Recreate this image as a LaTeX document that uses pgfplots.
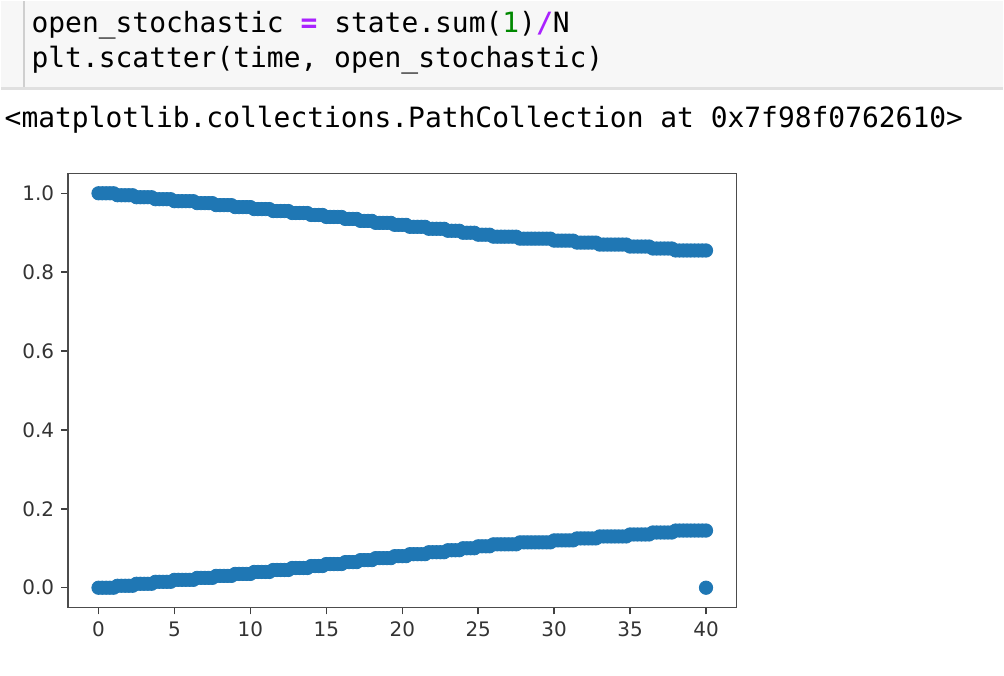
\documentclass[border=0pt]{standalone}
\usepackage{fontspec}
\setmainfont{DejaVu Sans}
\setsansfont{DejaVu Sans}
\setmonofont{DejaVu Sans Mono}
\usepackage{pgfplots}
\usepackage{pgfplotstable}
\pgfplotsset{compat=1.18}
\definecolor{mplblue}{HTML}{1F77B4}
\definecolor{cellbg}{HTML}{F7F7F7}
\definecolor{cellline}{HTML}{CFCFCF}
\definecolor{cellbot}{HTML}{E0E0E0}
\definecolor{cmop}{HTML}{AA22FF}
\definecolor{cmnum}{HTML}{008800}

\pgfplotstableread{
t up lo
0 1.000 0.000
0.25 1.000 0.000
0.5 1.000 0.000
0.75 1.000 0.000
1 1.000 0.000
1.25 0.995 0.005
1.5 0.995 0.005
1.75 0.995 0.005
2 0.995 0.005
2.25 0.995 0.005
2.5 0.990 0.010
2.75 0.990 0.010
3 0.990 0.010
3.25 0.990 0.010
3.5 0.990 0.010
3.75 0.985 0.015
4 0.985 0.015
4.25 0.985 0.015
4.5 0.985 0.015
4.75 0.985 0.015
5 0.980 0.020
5.25 0.980 0.020
5.5 0.980 0.020
5.75 0.980 0.020
6 0.980 0.020
6.25 0.980 0.020
6.5 0.975 0.025
6.75 0.975 0.025
7 0.975 0.025
7.25 0.975 0.025
7.5 0.975 0.025
7.75 0.970 0.030
8 0.970 0.030
8.25 0.970 0.030
8.5 0.970 0.030
8.75 0.970 0.030
9 0.965 0.035
9.25 0.965 0.035
9.5 0.965 0.035
9.75 0.965 0.035
10 0.965 0.035
10.25 0.960 0.040
10.5 0.960 0.040
10.75 0.960 0.040
11 0.960 0.040
11.25 0.960 0.040
11.5 0.955 0.045
11.75 0.955 0.045
12 0.955 0.045
12.25 0.955 0.045
12.5 0.955 0.045
12.75 0.950 0.050
13 0.950 0.050
13.25 0.950 0.050
13.5 0.950 0.050
13.75 0.950 0.050
14 0.945 0.055
14.25 0.945 0.055
14.5 0.945 0.055
14.75 0.945 0.055
15 0.940 0.060
15.25 0.940 0.060
15.5 0.940 0.060
15.75 0.940 0.060
16 0.940 0.060
16.25 0.935 0.065
16.5 0.935 0.065
16.75 0.935 0.065
17 0.935 0.065
17.25 0.930 0.070
17.5 0.930 0.070
17.75 0.930 0.070
18 0.930 0.070
18.25 0.925 0.075
18.5 0.925 0.075
18.75 0.925 0.075
19 0.925 0.075
19.25 0.925 0.075
19.5 0.920 0.080
19.75 0.920 0.080
20 0.920 0.080
20.25 0.920 0.080
20.5 0.915 0.085
20.75 0.915 0.085
21 0.915 0.085
21.25 0.915 0.085
21.5 0.915 0.085
21.75 0.910 0.090
22 0.910 0.090
22.25 0.910 0.090
22.5 0.910 0.090
22.75 0.910 0.090
23 0.905 0.095
23.25 0.905 0.095
23.5 0.905 0.095
23.75 0.905 0.095
24 0.900 0.100
24.25 0.900 0.100
24.5 0.900 0.100
24.75 0.900 0.100
25 0.895 0.105
25.25 0.895 0.105
25.5 0.895 0.105
25.75 0.895 0.105
26 0.890 0.110
26.25 0.890 0.110
26.5 0.890 0.110
26.75 0.890 0.110
27 0.890 0.110
27.25 0.890 0.110
27.5 0.890 0.110
27.75 0.885 0.115
28 0.885 0.115
28.25 0.885 0.115
28.5 0.885 0.115
28.75 0.885 0.115
29 0.885 0.115
29.25 0.885 0.115
29.5 0.885 0.115
29.75 0.885 0.115
30 0.880 0.120
30.25 0.880 0.120
30.5 0.880 0.120
30.75 0.880 0.120
31 0.880 0.120
31.25 0.880 0.120
31.5 0.875 0.125
31.75 0.875 0.125
32 0.875 0.125
32.25 0.875 0.125
32.5 0.875 0.125
32.75 0.875 0.125
33 0.870 0.130
33.25 0.870 0.130
33.5 0.870 0.130
33.75 0.870 0.130
34 0.870 0.130
34.25 0.870 0.130
34.5 0.870 0.130
34.75 0.870 0.130
35 0.865 0.135
35.25 0.865 0.135
35.5 0.865 0.135
35.75 0.865 0.135
36 0.865 0.135
36.25 0.865 0.135
36.5 0.860 0.140
36.75 0.860 0.140
37 0.860 0.140
37.25 0.860 0.140
37.5 0.860 0.140
37.75 0.860 0.140
38 0.855 0.145
38.25 0.855 0.145
38.5 0.855 0.145
38.75 0.855 0.145
39 0.855 0.145
39.25 0.855 0.145
39.5 0.855 0.145
39.75 0.855 0.145
40 0.855 0.145
}\series

\begin{document}
\begin{tikzpicture}
\path[fill=white] (0,0) rectangle (502pt,-338pt);
\fill[cellbg] (0,0) rectangle (502pt,-43.5pt);
\draw[cellline, line width=1pt] (11.5pt,0) -- (11.5pt,-43.5pt);
\draw[cellbot, line width=1.3pt] (0,-44pt) -- (502pt,-44pt);
\node[anchor=base west, inner sep=0pt, font=\ttfamily\fontsize{14pt}{17pt}\selectfont] at (15pt,-16pt)
  {open\_stochastic {\color{cmop}\bfseries =} state.sum({\color{cmnum}1}){\color{cmop}\bfseries /}N};
\node[anchor=base west, inner sep=0pt, font=\ttfamily\fontsize{14pt}{17pt}\selectfont] at (15pt,-33.3pt)
  {plt.scatter(time, open\_stochastic)};
\node[anchor=base west, inner sep=0pt, font=\ttfamily\fontsize{14pt}{17pt}\selectfont] at (1.5pt,-63.5pt)
  {<matplotlib.collections.PathCollection at 0x7f98f0762610>};
\begin{axis}[
  at={(33.5pt,-304pt)}, anchor=south west,
  scale only axis, width=335pt, height=217.5pt,
  xmin=-2, xmax=42, ymin=-0.05, ymax=1.05,
  xtick={0,5,10,15,20,25,30,35,40},
  ytick={0,0.2,0.4,0.6,0.8,1},
  xtick pos=bottom, ytick pos=left,
  tick align=outside,
  major tick length=3.5pt,
  every tick/.style={black!75, line width=0.7pt},
  axis line style={black!70, line width=0.8pt},
  /pgf/number format/assume math mode=true,
  ticklabel style={font=\fontsize{10pt}{12pt}\selectfont, text=black!80},
  yticklabel style={/pgf/number format/fixed, /pgf/number format/fixed zerofill, /pgf/number format/precision=1},
  clip=false,
]
\addplot[only marks, mark=*, mark size=3.35pt, color=mplblue, mark options={line width=0.4pt}] table[x=t, y=up] {\series};
\addplot[only marks, mark=*, mark size=3.35pt, color=mplblue, mark options={line width=0.4pt}] table[x=t, y=lo] {\series};
\addplot[only marks, mark=*, mark size=3.35pt, color=mplblue, mark options={line width=0.4pt}] coordinates {(40,0)};
\end{axis}
\end{tikzpicture}
\end{document}
